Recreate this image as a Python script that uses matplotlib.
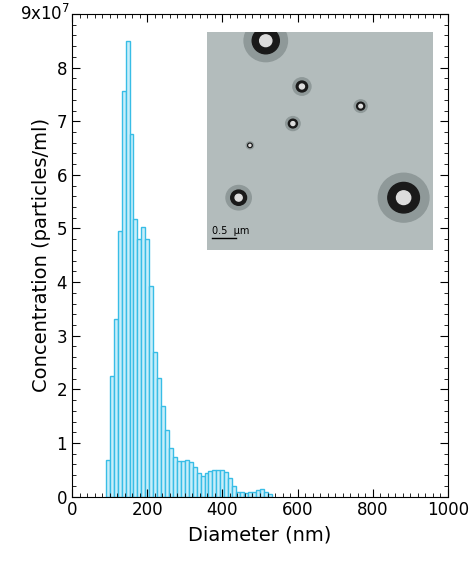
import matplotlib
matplotlib.use("Agg")
import matplotlib.pyplot as plt
from matplotlib.patches import Circle
import numpy as np

bin_start = 90
bin_width = 10.5
heights = [0.68,2.24,3.31,4.95,7.57,8.5,6.76,5.18,4.8,5.02,4.81,3.92,2.7,2.21,1.69,1.24,
           0.9,0.74,0.67,0.67,0.68,0.65,0.55,0.44,0.38,0.44,0.47,0.49,0.49,0.49,0.45,0.35,
           0.19,0.09,0.08,0.07,0.09,0.09,0.12,0.14,0.09,0.05]
edges = bin_start + bin_width*np.arange(len(heights))

fig = plt.figure(figsize=(4.74,5.69), dpi=100)
ax = fig.add_axes([72/474, 1-496.6/569, 376/474, (496.6-14)/569])
ax.bar(edges, np.array(heights)*1e7, width=bin_width, align='edge',
       facecolor='#c8eefa', edgecolor='#38bde6', linewidth=1.0)
ax.set_xlim(0,1000); ax.set_ylim(0,9e7)
ax.set_xticks(range(0,1001,200))
ax.set_xticks(range(0,1001,20), minor=True)
ax.set_yticks(np.arange(0,9.1,1)*1e7)
ax.set_yticks(np.arange(0,9,0.2)*1e7, minor=True)
ax.set_yticklabels([str(i) for i in range(9)]+[''])
ax.tick_params(which='both', direction='in', top=True, right=True, labelsize=12)
ax.tick_params(which='major', length=6)
ax.tick_params(which='minor', length=3)
ax.text(-0.005, 1.0, r'9x10$^7$', transform=ax.transAxes, ha='right', va='center', fontsize=12)
ax.set_xlabel('Diameter (nm)', fontsize=14)
ax.set_ylabel('Concentration (particles/ml)', fontsize=14)

ins = fig.add_axes([207/474, 1-250/569, 226/474, 218/569])
ins.set_xlim(0,1); ins.set_ylim(0,1)
ins.set_facecolor('#b3bcbc')
ins.set_xticks([]); ins.set_yticks([])
for s in ins.spines.values(): s.set_visible(False)
for (x,y,r) in [(0.26,0.96,0.06),(0.87,0.24,0.07),(0.14,0.24,0.035),(0.42,0.75,0.025),(0.38,0.58,0.02),(0.68,0.66,0.018),(0.19,0.48,0.01)]:
    ins.add_patch(Circle((x,y), r*1.6, color='#8f9999'))
    ins.add_patch(Circle((x,y), r, color='#1a1a1a'))
    ins.add_patch(Circle((x,y), r*0.45, color='#dddddd'))
ins.plot([0.02,0.13],[0.055,0.055], color='k', lw=1)
ins.text(0.02,0.065,'0.5  μm', fontsize=7, va='bottom')
fig.savefig('out.png', dpi=100)
